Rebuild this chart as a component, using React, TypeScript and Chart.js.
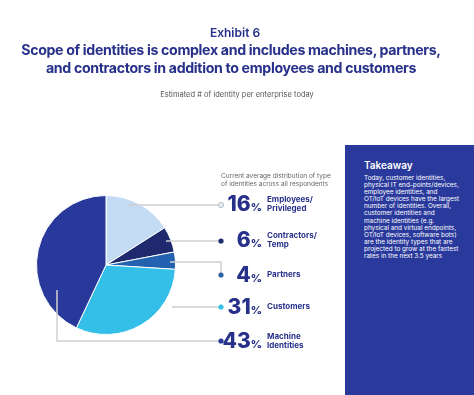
import React, { useEffect, useRef } from "react";
import { Chart, registerables } from "chart.js";

Chart.register(...registerables);

const categories = ["Employees/\nPrivileged", "Contractors/\nTemp", "Partners", "Customers", "Machine\nIdentities"];
const values = [16, 6, 4, 31, 43];
const colors = ["#c3dcf3", "#1f2a6e", "#2461b0", "#34bfe9", "#28399b"];
const dotColors = ["#e6edf3", "#1f2a6e", "#2d63a8", "#34bfe9", "#28399b"];
// layout of leader lines (label rows)
const rowY = [204, 240, 275, 307, 341];
const lineStartX = [128, 166, 170, 172, 57];
const lineY = [205, 241, 262, 307, 341];

const takeawayLines = [
  "Today, customer identities,",
  "physical IT end-points/devices,",
  "employee identities, and",
  "OT/IoT devices have the largest",
  "number of identities. Overall,",
  "customer identities and",
  "machine identities (e.g.",
  "physical and virtual endpoints,",
  "OT/IoT devices, software bots)",
  "are the identity types that are",
  "projected to grow at the fastest",
  "rates in the next 3.5 years",
];

const NAVY = "#27318a";
const FONT = "'Inter', 'Open Sans', sans-serif";

const leaderPlugin = {
  id: "leaders",
  afterDraw(chart: any) {
    const ctx = chart.ctx;
    ctx.save();
    ctx.strokeStyle = "#cfcfcf";
    ctx.lineWidth = 1.5;
    const dotX = 221;
    values.forEach((_, i) => {
      ctx.beginPath();
      if (i === 4) {
        ctx.moveTo(lineStartX[i], 290);
        ctx.lineTo(lineStartX[i], lineY[i]);
        ctx.lineTo(dotX, lineY[i]);
      } else if (i === 2) {
        ctx.moveTo(lineStartX[i], lineY[i]);
        ctx.lineTo(dotX, lineY[i]);
        ctx.lineTo(dotX, rowY[i]);
      } else {
        ctx.moveTo(lineStartX[i], lineY[i]);
        ctx.lineTo(dotX, lineY[i]);
      }
      ctx.stroke();
    });
    values.forEach((_, i) => {
      ctx.beginPath();
      ctx.arc(dotX, i === 2 ? rowY[i] : lineY[i], 2.6, 0, Math.PI * 2);
      ctx.fillStyle = dotColors[i];
      ctx.fill();
      if (i === 0) {
        ctx.strokeStyle = "#b8c2cc";
        ctx.lineWidth = 1;
        ctx.stroke();
      }
    });
    ctx.restore();
  },
};

export default function App() {
  const ref = useRef<HTMLCanvasElement>(null);
  useEffect(() => {
    const chart = new Chart(ref.current!, {
      type: "pie",
      data: {
        labels: categories,
        datasets: [
          {
            data: values,
            backgroundColor: colors,
            borderColor: "#ffffff",
            borderWidth: 1,
          },
        ],
      },
      options: {
        animation: false,
        responsive: false,
        maintainAspectRatio: false,
        layout: { padding: { left: 36, right: 298, top: 195, bottom: 60 } },
        plugins: { legend: { display: false }, tooltip: { enabled: false } },
      },
      plugins: [leaderPlugin],
    });
    return () => chart.destroy();
  }, []);

  return (
    <div style={{ position: "fixed", left: 0, top: 0, width: 474, height: 395, background: "#fff", overflow: "hidden", fontFamily: FONT }}>
      <canvas ref={ref} width={474} height={395} style={{ position: "absolute", left: 0, top: 0, width: 474, height: 395 }} />
      <div style={{ position: "absolute", left: 0, width: 470, top: 25, textAlign: "center", color: NAVY, fontSize: 12, fontWeight: 600 }}>Exhibit 6</div>
      <div style={{ position: "absolute", left: -6, width: 474, top: 41, textAlign: "center", color: NAVY, fontSize: 14.2, fontWeight: 700, letterSpacing: -0.35, lineHeight: "18px", whiteSpace: "nowrap" }}>
        Scope of identities is complex and includes machines, partners,
        <br />
        and contractors in addition to employees and customers
      </div>
      <div style={{ position: "absolute", left: 0, width: 474, top: 90, textAlign: "center", color: "#555", fontSize: 7.5 }}>
        Estimated # of identity per enterprise today
      </div>
      <div style={{ position: "absolute", left: 221, top: 172, color: "#666", fontSize: 6.5, lineHeight: "8px" }}>
        Current average distribution of type
        <br />
        of identities across all respondents
      </div>
      {values.map((v, i) => (
        <React.Fragment key={i}>
          <div style={{ position: "absolute", left: 212, width: 50, top: rowY[i] - 13, height: 26, textAlign: "right", color: NAVY, fontWeight: 800, lineHeight: "26px", whiteSpace: "nowrap" }}>
            <span style={{ fontSize: 21 }}>{v}</span>
            <span style={{ fontSize: 11 }}>%</span>
          </div>
          <div style={{ position: "absolute", left: 267, top: rowY[i] - (categories[i].includes("\n") ? 9 : 5), color: NAVY, fontWeight: 700, fontSize: 8, lineHeight: "9px", whiteSpace: "pre" }}>
            {categories[i]}
          </div>
        </React.Fragment>
      ))}
      <div style={{ position: "absolute", left: 345, top: 145, width: 129, height: 250, background: "#2a3a9c" }}>
        <div style={{ position: "absolute", left: 19, top: 14, color: "#fff", fontWeight: 600, fontSize: 10 }}>Takeaway</div>
        <div style={{ position: "absolute", left: 19, top: 30, color: "#fff", fontSize: 6.4, lineHeight: "7.1px", whiteSpace: "nowrap" }}>
          {takeawayLines.map((l, i) => (
            <div key={i}>{l}</div>
          ))}
        </div>
      </div>
    </div>
  );
}
